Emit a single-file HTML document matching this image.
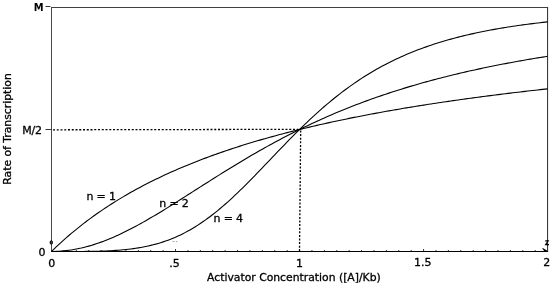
<!DOCTYPE html>
<html><head><meta charset="utf-8"><title>Hill function</title>
<style>
html,body{margin:0;padding:0;background:#fff;}
body{width:553px;height:285px;overflow:hidden;}
svg{display:block;}
text{font-family:"DejaVu Sans","Liberation Sans",sans-serif;font-size:11px;fill:#000;stroke:#000;stroke-width:0.3px;}
</style></head><body>
<svg width="553" height="285" viewBox="0 0 553 285">
<rect width="553" height="285" fill="#fff"/>
<line x1="51.0" x2="548.1" y1="7.5" y2="7.5" stroke="#404040" stroke-width="1"/>
<line x1="51.5" x2="51.5" y1="7.5" y2="251.5" stroke="#484848" stroke-width="1"/>
<line x1="547.6" x2="547.6" y1="7.5" y2="251.5" stroke="#262626" stroke-width="1"/>
<line x1="51.0" x2="548.1" y1="251.5" y2="251.5" stroke="#000" stroke-width="1"/>
<path d="M51.50,251.50 L53.98,249.08 L56.46,246.72 L58.94,244.39 L61.42,242.12 L63.90,239.88 L66.38,237.69 L68.86,235.54 L71.34,233.43 L73.82,231.35 L76.31,229.32 L78.79,227.32 L81.27,225.36 L83.75,223.43 L86.23,221.54 L88.71,219.67 L91.19,217.84 L93.67,216.05 L96.15,214.28 L98.63,212.54 L101.11,210.83 L103.59,209.15 L106.07,207.50 L108.55,205.87 L111.03,204.27 L113.51,202.70 L115.99,201.15 L118.47,199.63 L120.95,198.12 L123.43,196.65 L125.92,195.19 L128.40,193.76 L130.88,192.35 L133.36,190.96 L135.84,189.59 L138.32,188.24 L140.80,186.91 L143.28,185.60 L145.76,184.31 L148.24,183.04 L150.72,181.79 L153.20,180.55 L155.68,179.33 L158.16,178.13 L160.64,176.94 L163.12,175.78 L165.60,174.62 L168.08,173.49 L170.56,172.36 L173.04,171.26 L175.53,170.17 L178.01,169.09 L180.49,168.03 L182.97,166.98 L185.45,165.94 L187.93,164.92 L190.41,163.91 L192.89,162.91 L195.37,161.93 L197.85,160.96 L200.33,160.00 L202.81,159.05 L205.29,158.12 L207.77,157.19 L210.25,156.28 L212.73,155.38 L215.21,154.49 L217.69,153.61 L220.17,152.74 L222.65,151.88 L225.14,151.03 L227.62,150.19 L230.10,149.36 L232.58,148.54 L235.06,147.73 L237.54,146.93 L240.02,146.14 L242.50,145.35 L244.98,144.58 L247.46,143.81 L249.94,143.06 L252.42,142.31 L254.90,141.57 L257.38,140.83 L259.86,140.11 L262.34,139.39 L264.82,138.68 L267.30,137.98 L269.78,137.29 L272.26,136.60 L274.75,135.92 L277.23,135.25 L279.71,134.58 L282.19,133.92 L284.67,133.27 L287.15,132.63 L289.63,131.99 L292.11,131.36 L294.59,130.73 L297.07,130.11 L299.55,129.50 L302.03,128.89 L304.51,128.29 L306.99,127.70 L309.47,127.11 L311.95,126.52 L314.43,125.95 L316.91,125.37 L319.39,124.81 L321.87,124.25 L324.36,123.69 L326.84,123.14 L329.32,122.59 L331.80,122.05 L334.28,121.52 L336.76,120.99 L339.24,120.46 L341.72,119.94 L344.20,119.43 L346.68,118.92 L349.16,118.41 L351.64,117.91 L354.12,117.41 L356.60,116.92 L359.08,116.43 L361.56,115.94 L364.04,115.46 L366.52,114.99 L369.00,114.52 L371.48,114.05 L373.97,113.59 L376.45,113.13 L378.93,112.67 L381.41,112.22 L383.89,111.77 L386.37,111.33 L388.85,110.89 L391.33,110.45 L393.81,110.02 L396.29,109.59 L398.77,109.17 L401.25,108.74 L403.73,108.33 L406.21,107.91 L408.69,107.50 L411.17,107.09 L413.65,106.69 L416.13,106.29 L418.61,105.89 L421.09,105.49 L423.58,105.10 L426.06,104.71 L428.54,104.33 L431.02,103.94 L433.50,103.56 L435.98,103.19 L438.46,102.81 L440.94,102.44 L443.42,102.07 L445.90,101.71 L448.38,101.35 L450.86,100.99 L453.34,100.63 L455.82,100.28 L458.30,99.92 L460.78,99.58 L463.26,99.23 L465.74,98.89 L468.22,98.54 L470.70,98.21 L473.19,97.87 L475.67,97.54 L478.15,97.21 L480.63,96.88 L483.11,96.55 L485.59,96.23 L488.07,95.91 L490.55,95.59 L493.03,95.27 L495.51,94.96 L497.99,94.64 L500.47,94.33 L502.95,94.02 L505.43,93.72 L507.91,93.42 L510.39,93.11 L512.87,92.81 L515.35,92.52 L517.83,92.22 L520.31,91.93 L522.80,91.64 L525.28,91.35 L527.76,91.06 L530.24,90.78 L532.72,90.49 L535.20,90.21 L537.68,89.93 L540.16,89.65 L542.64,89.38 L545.12,89.11 L547.60,88.83" fill="none" stroke="#000" stroke-width="1.1" stroke-linejoin="round"/>
<path d="M51.50,251.50 L53.98,251.48 L56.46,251.40 L58.94,251.28 L61.42,251.11 L63.90,250.89 L66.38,250.62 L68.86,250.31 L71.34,249.95 L73.82,249.54 L76.31,249.08 L78.79,248.58 L81.27,248.04 L83.75,247.44 L86.23,246.81 L88.71,246.13 L91.19,245.41 L93.67,244.65 L96.15,243.84 L98.63,243.00 L101.11,242.12 L103.59,241.19 L106.07,240.24 L108.55,239.24 L111.03,238.21 L113.51,237.15 L115.99,236.05 L118.47,234.92 L120.95,233.76 L123.43,232.57 L125.92,231.35 L128.40,230.11 L130.88,228.84 L133.36,227.54 L135.84,226.22 L138.32,224.87 L140.80,223.51 L143.28,222.12 L145.76,220.71 L148.24,219.29 L150.72,217.84 L153.20,216.39 L155.68,214.91 L158.16,213.42 L160.64,211.92 L163.12,210.41 L165.60,208.89 L168.08,207.35 L170.56,205.81 L173.04,204.26 L175.53,202.70 L178.01,201.14 L180.49,199.57 L182.97,197.99 L185.45,196.41 L187.93,194.83 L190.41,193.25 L192.89,191.66 L195.37,190.08 L197.85,188.50 L200.33,186.91 L202.81,185.33 L205.29,183.75 L207.77,182.17 L210.25,180.60 L212.73,179.03 L215.21,177.46 L217.69,175.90 L220.17,174.35 L222.65,172.80 L225.14,171.26 L227.62,169.72 L230.10,168.20 L232.58,166.68 L235.06,165.16 L237.54,163.66 L240.02,162.17 L242.50,160.68 L244.98,159.20 L247.46,157.74 L249.94,156.28 L252.42,154.83 L254.90,153.40 L257.38,151.97 L259.86,150.56 L262.34,149.15 L264.82,147.76 L267.30,146.38 L269.78,145.01 L272.26,143.65 L274.75,142.31 L277.23,140.97 L279.71,139.65 L282.19,138.34 L284.67,137.04 L287.15,135.75 L289.63,134.48 L292.11,133.21 L294.59,131.96 L297.07,130.73 L299.55,129.50 L302.03,128.29 L304.51,127.08 L306.99,125.89 L309.47,124.72 L311.95,123.55 L314.43,122.40 L316.91,121.26 L319.39,120.13 L321.87,119.01 L324.36,117.91 L326.84,116.81 L329.32,115.73 L331.80,114.66 L334.28,113.61 L336.76,112.56 L339.24,111.52 L341.72,110.50 L344.20,109.49 L346.68,108.49 L349.16,107.50 L351.64,106.52 L354.12,105.55 L356.60,104.60 L359.08,103.65 L361.56,102.72 L364.04,101.80 L366.52,100.88 L369.00,99.98 L371.48,99.09 L373.97,98.21 L376.45,97.33 L378.93,96.47 L381.41,95.62 L383.89,94.78 L386.37,93.95 L388.85,93.13 L391.33,92.31 L393.81,91.51 L396.29,90.72 L398.77,89.93 L401.25,89.16 L403.73,88.39 L406.21,87.63 L408.69,86.89 L411.17,86.15 L413.65,85.42 L416.13,84.69 L418.61,83.98 L421.09,83.27 L423.58,82.58 L426.06,81.89 L428.54,81.21 L431.02,80.53 L433.50,79.87 L435.98,79.21 L438.46,78.56 L440.94,77.92 L443.42,77.29 L445.90,76.66 L448.38,76.04 L450.86,75.43 L453.34,74.82 L455.82,74.22 L458.30,73.63 L460.78,73.05 L463.26,72.47 L465.74,71.90 L468.22,71.33 L470.70,70.78 L473.19,70.22 L475.67,69.68 L478.15,69.14 L480.63,68.61 L483.11,68.08 L485.59,67.56 L488.07,67.05 L490.55,66.54 L493.03,66.04 L495.51,65.54 L497.99,65.05 L500.47,64.56 L502.95,64.08 L505.43,63.61 L507.91,63.14 L510.39,62.67 L512.87,62.21 L515.35,61.76 L517.83,61.31 L520.31,60.87 L522.80,60.43 L525.28,59.99 L527.76,59.57 L530.24,59.14 L532.72,58.72 L535.20,58.31 L537.68,57.90 L540.16,57.49 L542.64,57.09 L545.12,56.69 L547.60,56.30" fill="none" stroke="#000" stroke-width="1.1" stroke-linejoin="round"/>
<path d="M51.50,251.50 L53.98,251.50 L56.46,251.50 L58.94,251.50 L61.42,251.50 L63.90,251.50 L66.38,251.50 L68.86,251.49 L71.34,251.49 L73.82,251.48 L76.31,251.48 L78.79,251.46 L81.27,251.45 L83.75,251.43 L86.23,251.41 L88.71,251.38 L91.19,251.34 L93.67,251.30 L96.15,251.24 L98.63,251.18 L101.11,251.11 L103.59,251.03 L106.07,250.93 L108.55,250.82 L111.03,250.69 L113.51,250.55 L115.99,250.39 L118.47,250.21 L120.95,250.01 L123.43,249.79 L125.92,249.54 L128.40,249.27 L130.88,248.97 L133.36,248.64 L135.84,248.28 L138.32,247.89 L140.80,247.47 L143.28,247.01 L145.76,246.52 L148.24,245.98 L150.72,245.41 L153.20,244.79 L155.68,244.14 L158.16,243.43 L160.64,242.69 L163.12,241.89 L165.60,241.04 L168.08,240.15 L170.56,239.20 L173.04,238.20 L175.53,237.15 L178.01,236.04 L180.49,234.88 L182.97,233.66 L185.45,232.38 L187.93,231.04 L190.41,229.65 L192.89,228.20 L195.37,226.69 L197.85,225.13 L200.33,223.51 L202.81,221.82 L205.29,220.09 L207.77,218.29 L210.25,216.44 L212.73,214.54 L215.21,212.59 L217.69,210.58 L220.17,208.52 L222.65,206.41 L225.14,204.26 L227.62,202.06 L230.10,199.82 L232.58,197.53 L235.06,195.21 L237.54,192.85 L240.02,190.46 L242.50,188.04 L244.98,185.58 L247.46,183.10 L249.94,180.60 L252.42,178.07 L254.90,175.53 L257.38,172.97 L259.86,170.40 L262.34,167.81 L264.82,165.22 L267.30,162.63 L269.78,160.03 L272.26,157.43 L274.75,154.83 L277.23,152.24 L279.71,149.66 L282.19,147.08 L284.67,144.52 L287.15,141.97 L289.63,139.44 L292.11,136.92 L294.59,134.43 L297.07,131.95 L299.55,129.50 L302.03,127.07 L304.51,124.67 L306.99,122.30 L309.47,119.95 L311.95,117.63 L314.43,115.35 L316.91,113.09 L319.39,110.87 L321.87,108.68 L324.36,106.52 L326.84,104.40 L329.32,102.31 L331.80,100.26 L334.28,98.24 L336.76,96.26 L339.24,94.31 L341.72,92.40 L344.20,90.53 L346.68,88.69 L349.16,86.89 L351.64,85.12 L354.12,83.39 L356.60,81.69 L359.08,80.03 L361.56,78.40 L364.04,76.81 L366.52,75.25 L369.00,73.73 L371.48,72.23 L373.97,70.78 L376.45,69.35 L378.93,67.96 L381.41,66.59 L383.89,65.26 L386.37,63.96 L388.85,62.69 L391.33,61.45 L393.81,60.24 L396.29,59.05 L398.77,57.90 L401.25,56.77 L403.73,55.67 L406.21,54.59 L408.69,53.54 L411.17,52.51 L413.65,51.51 L416.13,50.54 L418.61,49.58 L421.09,48.65 L423.58,47.75 L426.06,46.86 L428.54,46.00 L431.02,45.16 L433.50,44.33 L435.98,43.53 L438.46,42.75 L440.94,41.98 L443.42,41.24 L445.90,40.51 L448.38,39.80 L450.86,39.11 L453.34,38.44 L455.82,37.78 L458.30,37.13 L460.78,36.51 L463.26,35.89 L465.74,35.30 L468.22,34.71 L470.70,34.15 L473.19,33.59 L475.67,33.05 L478.15,32.52 L480.63,32.00 L483.11,31.50 L485.59,31.01 L488.07,30.53 L490.55,30.06 L493.03,29.60 L495.51,29.16 L497.99,28.72 L500.47,28.30 L502.95,27.88 L505.43,27.48 L507.91,27.08 L510.39,26.69 L512.87,26.31 L515.35,25.95 L517.83,25.58 L520.31,25.23 L522.80,24.89 L525.28,24.55 L527.76,24.22 L530.24,23.90 L532.72,23.59 L535.20,23.28 L537.68,22.98 L540.16,22.69 L542.64,22.41 L545.12,22.13 L547.60,21.85" fill="none" stroke="#000" stroke-width="1.1" stroke-linejoin="round"/>
<path d="M53.0,129.8 L298.5,129.35" fill="none" stroke="#000" stroke-width="1.3" stroke-dasharray="2 1.75"/>
<path d="M300.7,130.5 L299.5,251.5" fill="none" stroke="#000" stroke-width="1.3" stroke-dasharray="2 1.6"/>
<line x1="45.5" x2="50.5" y1="6.5" y2="6.5" stroke="#333" stroke-width="1"/>
<line x1="45.5" x2="51.5" y1="129.50" y2="129.50" stroke="#333" stroke-width="1"/>
<line x1="63.90" x2="63.90" y1="251.5" y2="250.0" stroke="#000" stroke-width="0.8"/>
<line x1="76.31" x2="76.31" y1="251.5" y2="250.0" stroke="#000" stroke-width="0.8"/>
<line x1="88.71" x2="88.71" y1="251.5" y2="250.0" stroke="#000" stroke-width="0.8"/>
<line x1="101.11" x2="101.11" y1="251.5" y2="250.0" stroke="#000" stroke-width="0.8"/>
<line x1="113.51" x2="113.51" y1="251.5" y2="250.0" stroke="#000" stroke-width="0.8"/>
<line x1="125.92" x2="125.92" y1="251.5" y2="250.0" stroke="#000" stroke-width="0.8"/>
<line x1="138.32" x2="138.32" y1="251.5" y2="250.0" stroke="#000" stroke-width="0.8"/>
<line x1="150.72" x2="150.72" y1="251.5" y2="250.0" stroke="#000" stroke-width="0.8"/>
<line x1="163.12" x2="163.12" y1="251.5" y2="250.0" stroke="#000" stroke-width="0.8"/>
<line x1="175.53" x2="175.53" y1="251.5" y2="249.0" stroke="#000" stroke-width="0.8"/>
<line x1="187.93" x2="187.93" y1="251.5" y2="250.0" stroke="#000" stroke-width="0.8"/>
<line x1="200.33" x2="200.33" y1="251.5" y2="250.0" stroke="#000" stroke-width="0.8"/>
<line x1="212.73" x2="212.73" y1="251.5" y2="250.0" stroke="#000" stroke-width="0.8"/>
<line x1="225.14" x2="225.14" y1="251.5" y2="250.0" stroke="#000" stroke-width="0.8"/>
<line x1="237.54" x2="237.54" y1="251.5" y2="250.0" stroke="#000" stroke-width="0.8"/>
<line x1="249.94" x2="249.94" y1="251.5" y2="250.0" stroke="#000" stroke-width="0.8"/>
<line x1="262.34" x2="262.34" y1="251.5" y2="250.0" stroke="#000" stroke-width="0.8"/>
<line x1="274.75" x2="274.75" y1="251.5" y2="250.0" stroke="#000" stroke-width="0.8"/>
<line x1="287.15" x2="287.15" y1="251.5" y2="250.0" stroke="#000" stroke-width="0.8"/>
<line x1="299.55" x2="299.55" y1="251.5" y2="249.0" stroke="#000" stroke-width="0.8"/>
<line x1="311.95" x2="311.95" y1="251.5" y2="250.0" stroke="#000" stroke-width="0.8"/>
<line x1="324.36" x2="324.36" y1="251.5" y2="250.0" stroke="#000" stroke-width="0.8"/>
<line x1="336.76" x2="336.76" y1="251.5" y2="250.0" stroke="#000" stroke-width="0.8"/>
<line x1="349.16" x2="349.16" y1="251.5" y2="250.0" stroke="#000" stroke-width="0.8"/>
<line x1="361.56" x2="361.56" y1="251.5" y2="250.0" stroke="#000" stroke-width="0.8"/>
<line x1="373.97" x2="373.97" y1="251.5" y2="250.0" stroke="#000" stroke-width="0.8"/>
<line x1="386.37" x2="386.37" y1="251.5" y2="250.0" stroke="#000" stroke-width="0.8"/>
<line x1="398.77" x2="398.77" y1="251.5" y2="250.0" stroke="#000" stroke-width="0.8"/>
<line x1="411.17" x2="411.17" y1="251.5" y2="250.0" stroke="#000" stroke-width="0.8"/>
<line x1="423.58" x2="423.58" y1="251.5" y2="249.0" stroke="#000" stroke-width="0.8"/>
<line x1="435.98" x2="435.98" y1="251.5" y2="250.0" stroke="#000" stroke-width="0.8"/>
<line x1="448.38" x2="448.38" y1="251.5" y2="250.0" stroke="#000" stroke-width="0.8"/>
<line x1="460.78" x2="460.78" y1="251.5" y2="250.0" stroke="#000" stroke-width="0.8"/>
<line x1="473.19" x2="473.19" y1="251.5" y2="250.0" stroke="#000" stroke-width="0.8"/>
<line x1="485.59" x2="485.59" y1="251.5" y2="250.0" stroke="#000" stroke-width="0.8"/>
<line x1="497.99" x2="497.99" y1="251.5" y2="250.0" stroke="#000" stroke-width="0.8"/>
<line x1="510.39" x2="510.39" y1="251.5" y2="250.0" stroke="#000" stroke-width="0.8"/>
<line x1="522.80" x2="522.80" y1="251.5" y2="250.0" stroke="#000" stroke-width="0.8"/>
<line x1="535.20" x2="535.20" y1="251.5" y2="250.0" stroke="#000" stroke-width="0.8"/>
<ellipse cx="51.3" cy="242.5" rx="1.2" ry="1.8" fill="#444" stroke="#000" stroke-width="1"/>
<path d="M545.2,240.8 h3 l-2.6,3.8 h3.4" fill="none" stroke="#000" stroke-width="1.15"/>
<path d="M542,248.4 L543.2,248.2 L547,250.5 L547,251.5 L543,251.8 L544,250.4z" fill="#000"/>
<path d="M172.5,241.5 h2 M176,241.5 h1.5" fill="none" stroke="#999" stroke-width="0.8"/>
<text x="51.8" y="267.2" text-anchor="middle" >0</text>
<text x="174.5" y="267.0" text-anchor="middle" >.5</text>
<text x="299.5" y="266.8" text-anchor="middle" >1</text>
<text x="422.7" y="265.7" text-anchor="middle" >1.5</text>
<text x="546.7" y="265.5" text-anchor="middle" >2</text>
<text x="293.9" y="281.2" text-anchor="middle" style="font-size:10.8px">Activator Concentration ([A]/Kb)</text>
<text x="45.6" y="256" text-anchor="end" >0</text>
<text x="41.9" y="133.5" text-anchor="end" style="letter-spacing:-0.2px">M/2</text>
<text x="43.6" y="10.9" text-anchor="end" style="font-family:'DejaVu Sans Condensed','DejaVu Sans',sans-serif;font-weight:bold;font-stretch:condensed;stroke:none">M</text>
<text x="86.5" y="199.6" text-anchor="start" style="word-spacing:-0.35px">n = 1</text>
<text x="159.3" y="206.8" text-anchor="start" style="word-spacing:-0.35px">n = 2</text>
<text x="213.6" y="221.9" text-anchor="start" style="word-spacing:-0.35px">n = 4</text>
<text transform="translate(11,129) rotate(-90)" text-anchor="middle" style="font-size:10.8px">Rate of Transcription</text>
</svg>
</body></html>
